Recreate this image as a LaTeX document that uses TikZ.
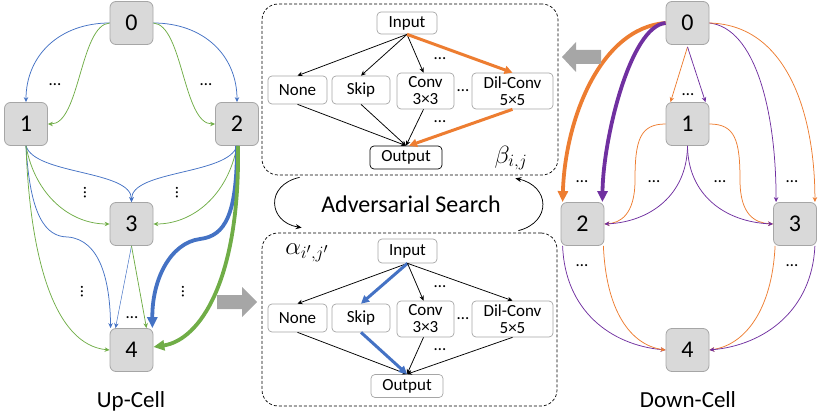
\documentclass[tikz,border=0pt]{standalone}
\usepackage{fontspec}
\setmainfont{Carlito}
\usetikzlibrary{arrows.meta,calc}
\definecolor{eblue}{HTML}{4472C4}
\definecolor{egreen}{HTML}{70AD47}
\definecolor{eorange}{HTML}{ED7D31}
\definecolor{epurple}{HTML}{7030A0}
\definecolor{boxfill}{HTML}{D9D9D9}
\definecolor{boxedge}{HTML}{A6A6A6}
\definecolor{bigarrow}{HTML}{A6A6A6}
\tikzset{
 cellbox/.style={draw=boxedge, fill=boxfill, rounded corners=6pt, minimum width=43pt, minimum height=43pt, inner sep=0pt, font=\fontsize{24}{24}\selectfont, line width=0.8pt},
 opbox/.style={draw=boxedge, fill=white, rounded corners=4pt, inner sep=0pt, font=\fontsize{17}{17}\selectfont, align=center, line width=0.7pt},
 thinarr/.style={line width=0.75pt, -{Stealth[length=5pt,width=4.5pt]}},
 thickarr/.style={line width=3.8pt, -{Triangle[length=11pt,width=10pt]}},
 midthick/.style={line width=3pt, -{Triangle[length=8pt,width=8pt]}},
 dotsl/.style={font=\fontsize{17}{17}\selectfont, inner sep=0pt},
 panel/.style={draw, rounded corners=16pt, dash pattern=on 3pt off 2pt, line width=0.7pt, inner sep=0pt},
 lbl/.style={font=\fontsize{23}{23}\selectfont, inner sep=0pt, anchor=base},
 mathlbl/.style={inner sep=0pt, font=\fontsize{27}{27}\selectfont},
 loop/.style={line width=0.75pt, -{Stealth[length=6pt,width=5pt]}}
}
\begin{document}
\begin{tikzpicture}[x=1pt,y=-1pt]
\useasboundingbox (0,0) rectangle (822,414);

% ---------------- Up-Cell ----------------
\node[cellbox] (u0) at (131.5,23) {0};
\node[cellbox] (u1) at (26,124) {1};
\node[cellbox] (u2) at (237,124) {2};
\node[cellbox] (u3) at (131.5,224) {3};
\node[cellbox] (u4) at (131.5,350) {4};
\node[lbl] (uplbl) at (131,407) {Up-Cell};

\draw[thinarr, eblue] (u0.west) .. controls (60,23) and (26,55) .. (u1.north);
\draw[thinarr, egreen] (u0.west) .. controls (80,25) and (80,124) .. (u1.east);
\draw[thinarr, eblue] (u0.east) .. controls (203,23) and (237,55) .. (u2.north);
\draw[thinarr, egreen] (u0.east) .. controls (183,25) and (183,124) .. (u2.west);

\draw[thinarr, eblue] (u1.south) .. controls (35,175) and (131.5,170) .. (u3.north);
\draw[thinarr, egreen] (u1.south) .. controls (35,195) and (70,224) .. (u3.west);
\draw[thinarr, eblue] (u2.south) .. controls (228,175) and (131.5,170) .. (u3.north);
\draw[thinarr, egreen] (u2.south) .. controls (228,195) and (193,224) .. (u3.east);

\draw[thinarr, eblue] (u1.south) .. controls (30,215) and (45,237) .. (68,237) .. controls (100,240) and (110,280) .. ($(u4.north west)+(1,0)$);
\draw[thinarr, egreen] (u1.south) .. controls (30,260) and (55,345) .. (u4.west);
\draw[thinarr, eblue, line width=0.5pt] (u3.south) -- ($(u4.north)+(-16,0)$);
\draw[thinarr, egreen] (u3.south) -- ($(u4.north)+(15,0)$);
\draw[thickarr, eblue] (u2.south) .. controls (237,215) and (225,236) .. (200,239) .. controls (170,243) and (152,280) .. ($(u4.north east)+(-1,0)$);
\draw[thickarr, egreen] ($(u2.south)+(1,0)$) .. controls (240,280) and (200,340) .. ($(u4.east)+(0,-3)$);

\node[dotsl] (ud1) at (55,85) {…};
\node[dotsl] (ud2) at (206,85) {…};
\node[dotsl, rotate=90] (ud3) at (85,193) {…};
\node[dotsl, rotate=90] (ud4) at (177,193) {…};
\node[dotsl, rotate=90] (ud5) at (82,292) {…};
\node[dotsl, rotate=90] (ud6) at (183,292) {…};
\node[dotsl] (ud7) at (132,318) {…};

% ---------------- Down-Cell ----------------
\node[cellbox] (d0) at (687.5,23) {0};
\node[cellbox] (d1) at (687.5,124) {1};
\node[cellbox] (d2) at (582.5,224) {2};
\node[cellbox] (d3) at (795,224) {3};
\node[cellbox] (d4) at (687.5,350) {4};
\node[lbl] (downlbl) at (688,407) {Down-Cell};

\draw[thickarr, eorange] (d0.west) .. controls (600,28) and (565,120) .. ($(d2.north west)+(2,0)$);
\draw[thickarr, epurple] (d0.west) .. controls (630,26) and (603,140) .. ($(d2.north east)+(-2,0)$);
\draw[thinarr, eorange] ($(d0.south)+(0,2)$) -- ($(d1.north)+(-17,0)$);
\draw[thinarr, epurple] ($(d0.south)+(0,2)$) -- ($(d1.north)+(18,0)$);
\draw[thinarr, epurple] (d0.east) .. controls (755,28) and (776,110) .. ($(d3.north west)+(3,0)$);
\draw[thinarr, eorange] (d0.east) .. controls (790,25) and (815,120) .. ($(d3.north east)+(-2,0)$);

\draw[thinarr, eorange] (d1.west) .. controls (640,124) and (635,140) .. (635,180) .. controls (635,215) and (620,223) .. (d2.east);
\draw[thinarr, epurple] (d1.south) .. controls (687,195) and (650,222) .. (d2.east);
\draw[thinarr, eorange] (d1.east) .. controls (735,124) and (740,140) .. (740,180) .. controls (740,215) and (755,223) .. (d3.west);
\draw[thinarr, epurple] (d1.south) .. controls (688,195) and (725,222) .. (d3.west);

\draw[thinarr, epurple] ($(d2.south west)+(2,0)$) .. controls (565,310) and (610,345) .. (d4.west);
\draw[thinarr, eorange] ($(d2.south east)+(-1,0)$) .. controls (606,310) and (630,345) .. (d4.west);
\draw[thinarr, eorange] ($(d3.south west)+(2,0)$) .. controls (772,310) and (745,345) .. (d4.east);
\draw[thinarr, epurple] ($(d3.south east)+(-2,0)$) .. controls (812,310) and (765,345) .. (d4.east);

\node[dotsl] (dd1) at (688,95) {…};
\node[dotsl] (dd2) at (582,182) {…};
\node[dotsl] (dd3) at (654,182) {…};
\node[dotsl] (dd4) at (720,182) {…};
\node[dotsl] (dd5) at (792,182) {…};
\node[dotsl] (dd6) at (582,266) {…};
\node[dotsl] (dd7) at (792,266) {…};

% ---------------- big gray arrows ----------------
\fill[bigarrow] (217,295) -- (242,295) -- (242,287) -- (257,302) -- (242,317) -- (242,309) -- (217,309) -- cycle;
\fill[bigarrow] (601,50) -- (576,50) -- (576,42) -- (562,57) -- (576,72) -- (576,64) -- (601,64) -- cycle;

% ---------------- panels ----------------
\node[panel, minimum width=296pt, minimum height=171pt] (topP) at (410,89.5) {};
\node[panel, minimum width=295pt, minimum height=173pt] (botP) at (409.5,319.5) {};

% top panel
\node[opbox, minimum width=60pt, minimum height=22pt] (tIn) at (407,23) {Input};
\node[opbox, minimum width=59pt, minimum height=28pt] (tNone) at (297.5,90) {None};
\node[opbox, minimum width=58pt, minimum height=28pt] (tSkip) at (361,90) {Skip};
\node[opbox, minimum width=57pt, minimum height=36pt] (tConv) at (425.5,91) {Conv\\3×3};
\node[opbox, minimum width=81pt, minimum height=36pt] (tDil) at (512.5,91) {Dil-Conv\\5×5};
\node[opbox, draw=black, minimum width=72pt, minimum height=23pt] (tOut) at (406,157.5) {Output};
\node[dotsl] (td1) at (440,59) {…};
\node[dotsl] (td2) at (463,91) {…};
\node[dotsl] (td3) at (440,122) {…};
\node[mathlbl] (beta) at (511,158) {$\beta_{i,j}$};

\draw[thinarr] (tIn.south) -- (tNone.north);
\draw[thinarr] (tIn.south) -- (tSkip.north);
\draw[thinarr] (tIn.south) -- ($(tConv.north)+(-2,0)$);
\draw[midthick, eorange] (tIn.south) -- (tDil.north);
\draw[thinarr] (tNone.south) -- (tOut.north);
\draw[thinarr] (tSkip.south) -- (tOut.north);
\draw[thinarr] ($(tConv.south)+(-2,0)$) -- (tOut.north);
\draw[midthick, eorange] (tDil.south) -- ($(tOut.north)+(3,0)$);

% bottom panel
\node[opbox, minimum width=59pt, minimum height=24pt] (bIn) at (407.5,251) {Input};
\node[opbox, minimum width=59pt, minimum height=28pt] (bNone) at (297.5,318) {None};
\node[opbox, minimum width=58pt, minimum height=28pt] (bSkip) at (361,318) {Skip};
\node[opbox, minimum width=57pt, minimum height=36pt] (bConv) at (425.5,319) {Conv\\3×3};
\node[opbox, minimum width=81pt, minimum height=36pt] (bDil) at (512.5,319) {Dil-Conv\\5×5};
\node[opbox, minimum width=72pt, minimum height=23pt] (bOut) at (407,386) {Output};
\node[dotsl] (bd1) at (440,287) {…};
\node[dotsl] (bd2) at (463,319) {…};
\node[dotsl] (bd3) at (440,350) {…};
\node[mathlbl] (alpha) at (307,253) {$\alpha_{i',j'}$};

\draw[thinarr] (bIn.south) -- (bNone.north);
\draw[midthick, eblue] (bIn.south) -- (bSkip.north);
\draw[thinarr] (bIn.south) -- ($(bConv.north)+(-2,0)$);
\draw[thinarr] (bIn.south) -- (bDil.north);
\draw[thinarr] (bNone.south) -- (bOut.north);
\draw[midthick, eblue] (bSkip.south) -- (bOut.north);
\draw[thinarr] ($(bConv.south)+(-2,0)$) -- (bOut.north);
\draw[thinarr] (bDil.south) -- (bOut.north);

% adversarial search loop
\node[font=\fontsize{24}{24}\selectfont, inner sep=0pt] (adv) at (411,204) {Adversarial Search};
\coordinate (la) at ($(topP.south west)+(38,2)$);
\coordinate (lb) at ($(botP.north west)+(40,-5)$);
\coordinate (ra) at ($(botP.north east)+(-39,-2)$);
\coordinate (rb) at ($(topP.south east)+(-43,3)$);
\draw[loop] (la) .. controls (265,185) and (268,222) .. (lb);
\draw[loop] (ra) .. controls (552,222) and (550,186) .. (rb);
\end{tikzpicture}
\end{document}
